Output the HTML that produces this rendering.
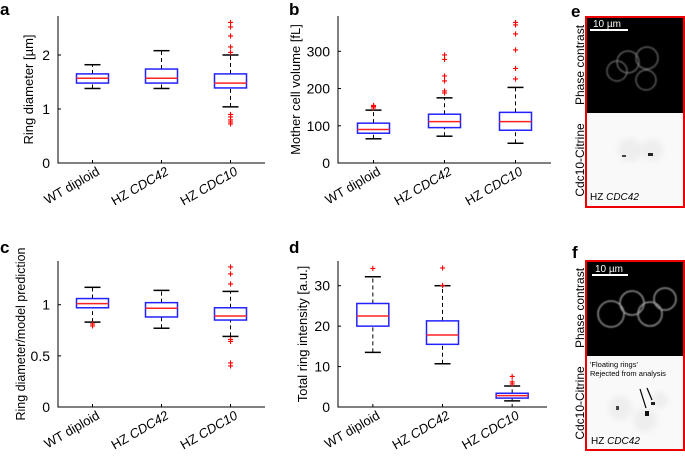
<!DOCTYPE html>
<html><head><meta charset="utf-8"><style>
body{margin:0;background:#fff;}
svg{display:block;font-family:"Liberation Sans",Arial,sans-serif;}
</style></head><body>
<svg id="fig" width="685" height="456" viewBox="0 0 685 456" xmlns="http://www.w3.org/2000/svg">
<defs>
<filter id="blur1"><feGaussianBlur stdDeviation="0.7"/></filter>
<filter id="blur2"><feGaussianBlur stdDeviation="3"/></filter>
</defs>
<g id="charts"></g>
<!-- panel e -->
<g>
<text x="571" y="17" font-weight="bold" font-size="17">e</text>
<rect x="586" y="17" width="98" height="96" fill="#000"/>
<rect x="586" y="113" width="98" height="94" fill="#f9f9f9"/>
<g fill="none" stroke="#888" stroke-width="1" filter="url(#blur1)">
<circle cx="617" cy="71" r="10"/><circle cx="628" cy="62" r="11"/><circle cx="647" cy="58" r="11"/><circle cx="646" cy="80" r="10"/>
</g>
<g fill="#eee" filter="url(#blur2)"><circle cx="630" cy="150" r="12"/><circle cx="652" cy="150" r="11"/></g>
<rect x="622" y="155" width="4" height="2" fill="#444"/><rect x="648" y="153" width="5" height="3" fill="#222"/>
<rect x="586" y="17" width="98" height="190" fill="none" stroke="#e00" stroke-width="2"/>
<line x1="590" y1="30" x2="628" y2="30" stroke="#fff" stroke-width="2"/>
<text x="593" y="27" font-size="10" fill="#fff">10 µm</text>
<text x="590" y="200" font-size="10" fill="#000">HZ <tspan font-style="italic">CDC42</tspan></text>
<text transform="translate(584,65) rotate(-90)" text-anchor="middle" font-size="12">Phase contrast</text>
<text transform="translate(584,160) rotate(-90)" text-anchor="middle" font-size="12">Cdc10-Citrine</text>
</g>
<!-- panel f -->
<g>
<text x="572" y="258" font-weight="bold" font-size="17">f</text>
<rect x="586" y="261" width="98" height="95" fill="#000"/>
<rect x="586" y="356" width="98" height="94" fill="#f9f9f9"/>
<g fill="none" stroke="#aaa" stroke-width="1.3" filter="url(#blur1)">
<circle cx="611" cy="314" r="13"/><circle cx="632" cy="303" r="12"/><circle cx="650" cy="314" r="12"/><circle cx="665" cy="299" r="11"/>
</g>
<g fill="#eee" filter="url(#blur2)"><circle cx="620" cy="408" r="12"/><circle cx="645" cy="420" r="12"/><circle cx="660" cy="400" r="8"/></g>
<rect x="616" y="406" width="3" height="4" fill="#444"/><rect x="645" y="411" width="4" height="5" fill="#111"/><rect x="651" y="402" width="4" height="3" fill="#222"/>
<line x1="640" y1="389" x2="646" y2="408" stroke="#000" stroke-width="1.2"/>
<line x1="647" y1="388" x2="652" y2="400" stroke="#000" stroke-width="1.2"/>
<rect x="586" y="261" width="98" height="189" fill="none" stroke="#e00" stroke-width="2"/>
<line x1="592" y1="275" x2="628" y2="275" stroke="#fff" stroke-width="2"/>
<text x="595" y="272" font-size="10" fill="#fff">10 µm</text>
<text x="590" y="367" font-size="7.5">'Floating rings'</text>
<text x="590" y="376" font-size="7.5">Rejected from analysis</text>
<text x="591" y="444" font-size="10">HZ <tspan font-style="italic">CDC42</tspan></text>
<text transform="translate(584,308) rotate(-90)" text-anchor="middle" font-size="12">Phase contrast</text>
<text transform="translate(584,403) rotate(-90)" text-anchor="middle" font-size="12">Cdc10-Citrine</text>
</g>
</svg>
<script>
const categories = ["WT diploid", "HZ CDC42", "HZ CDC10"];
// [low whisker, q1, median, q3, high whisker]
const statsA = [[1.38,1.48,1.57,1.65,1.82],[1.38,1.48,1.57,1.74,2.08],[1.04,1.39,1.48,1.65,2.0]];
const outliersA = [[],[],[2.05,2.15,2.35,2.52,2.6,0.72,0.76,0.8,0.85,0.9]];
const ticksA = [0,1,2];
const statsB = [[65,80,90,107,142],[72,95,111,131,175],[53,88,111,136,203]];
const outliersB = [[148,152,155],[188,193,220,233,278,290],[226,254,304,346,370,378]];
const ticksB = [0,100,200,300];
const statsC = [[0.83,0.97,1.01,1.06,1.17],[0.77,0.88,0.965,1.02,1.14],[0.69,0.85,0.89,0.97,1.13]];
const outliersC = [[0.79,0.81],[],[1.2,1.3,1.37,0.64,0.66,0.40,0.43]];
const ticksC = [0,0.5,1];
const statsD = [[13.5,20,22.5,25.6,32.2],[10.7,15.5,17.8,21.3,30],[1.5,2.2,2.8,3.4,5.2]];
const outliersD = [[34.2],[30.1,34.4],[5.7,6.2,7.6]];
const ticksD = [0,10,20,30];

const NS="http://www.w3.org/2000/svg";
const root=document.getElementById('charts');
function mk(tag,attrs,parent){const e=document.createElementNS(NS,tag);for(const k in attrs)e.setAttribute(k,attrs[k]);(parent||root).appendChild(e);return e;}

function panel(o){
  const g=mk('g',{});
  
  
  const y=v=>o.y0-(v-o.vmin)/(o.vmax-o.vmin)*(o.y0-o.yTop);
  const x=i=>o.x0+(i+0.5)/3*(o.x1-o.x0);
  const lbl=mk('text',{x:o.lx,y:o.ly,'font-weight':'bold','font-size':17},g);lbl.textContent=o.id;
  
  
  const ax=mk('path',{d:`M${o.x0},${o.yAxisTop}V${o.y0}H${o.x1}`,fill:'none',stroke:'#000','stroke-width':1},g);
  
  
  o.ticks.forEach(t=>{
    mk('line',{x1:o.x0,x2:o.x0+3,y1:y(t),y2:y(t),stroke:'#000'},g);
    const tt=mk('text',{x:o.x0-8,y:y(t)+5,'text-anchor':'end','font-size':14},g);tt.textContent=t;
    
    
  });
  const yl=mk('text',{transform:`translate(${o.x0-o.ylOff+5},${(o.y0+o.yAxisTop)/2}) rotate(-90)`,'text-anchor':'middle','font-size':o.ylSize||13},g);
  yl.textContent=o.ylabel;
  
  
  categories.forEach((c,i)=>{
    const cx=x(i);
    mk('line',{x1:cx,x2:cx,y1:o.y0,y2:o.y0-3,stroke:'#000'},g);
    const t=mk('text',{transform:`translate(${cx+8},${o.y0+11}) rotate(-30)`,'text-anchor':'end','font-size':13},g);
    const parts=c.split(' ');
    if(c.startsWith('HZ')){t.innerHTML=`HZ <tspan font-style="italic">${parts[1]}</tspan>`;}else t.textContent=c;
    
    
    const s=o.stats[i];const bw=16;
    const bg=mk('g',{},g);
    
    
    mk('line',{x1:cx,x2:cx,y1:y(s[0]),y2:y(s[1]),stroke:'#000','stroke-dasharray':'4,3'},bg);
    mk('line',{x1:cx,x2:cx,y1:y(s[3]),y2:y(s[4]),stroke:'#000','stroke-dasharray':'4,3'},bg);
    mk('line',{x1:cx-8,x2:cx+8,y1:y(s[0]),y2:y(s[0]),stroke:'#000','stroke-width':1.5},bg);
    mk('line',{x1:cx-8,x2:cx+8,y1:y(s[4]),y2:y(s[4]),stroke:'#000','stroke-width':1.5},bg);
    mk('rect',{x:cx-bw,y:y(s[3]),width:2*bw,height:y(s[1])-y(s[3]),fill:'#fff',stroke:'#22f','stroke-width':1.5},bg);
    mk('line',{x1:cx-bw,x2:cx+bw,y1:y(s[2]),y2:y(s[2]),stroke:'#f22','stroke-width':1.5},bg);
    o.out[i].forEach(v=>{
      const p=mk('text',{x:cx,y:y(v)+3.5,'text-anchor':'middle','font-size':10,'font-weight':'bold',fill:'#f00'},bg);p.textContent='+';
      
      
    });
  });
}
panel({id:'a',lx:0,ly:15,ylOff:30,x0:58,x1:265,y0:163,yTop:55,yAxisTop:16,vmin:0,vmax:2,ticks:ticksA,stats:statsA,out:outliersA,ylabel:'Ring diameter [µm]'});
panel({id:'b',lx:289,ly:15,ylOff:43,x0:338,x1:551,y0:163,yTop:51.3,yAxisTop:16,vmin:0,vmax:300,ticks:ticksB,stats:statsB,out:outliersB,ylabel:'Mother cell volume [fL]'});
panel({id:'c',lx:0,ly:253,ylOff:38,x0:58,x1:265,y0:407,yTop:304.7,yAxisTop:261,vmin:0,vmax:1,ticks:ticksC,stats:statsC,out:outliersC,ylabel:'Ring diameter/model prediction',ylSize:12.5});
panel({id:'d',lx:289,ly:253,ylOff:36,x0:338,x1:547,y0:407,yTop:285.7,yAxisTop:261,vmin:0,vmax:30,ticks:ticksD,stats:statsD,out:outliersD,ylabel:'Total ring intensity [a.u.]'});
</script>
</body></html>
